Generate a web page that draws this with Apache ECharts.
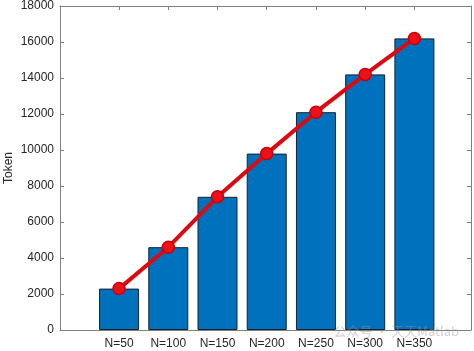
<!DOCTYPE html>
<html><head><meta charset="utf-8">
<script src="https://cdn.jsdelivr.net/npm/echarts@6/dist/echarts.min.js"></script>
<style>html,body{margin:0;padding:0;background:#fff}#c{width:474px;height:351px}</style>
</head><body><div id="c"></div>
<script>
const categories = ['N=50','N=100','N=150','N=200','N=250','N=300','N=350'];
const barValues = [2300, 4600, 7400, 9800, 12100, 14200, 16200];
const lineValues = [2300, 4600, 7400, 9800, 12100, 14200, 16200];
const yTicks = [0, 2000, 4000, 6000, 8000, 10000, 12000, 14000, 16000, 18000];

const idx = categories.map((_, i) => i);
const axisColor = '#7f7f7f';
const textColor = '#262626';
const font = 'Liberation Sans, Arial, sans-serif';

const chart = echarts.init(document.getElementById('c'));
chart.setOption({
  animation: false,
  backgroundColor: '#fff',
  grid: { left: 60, right: 3, top: 6, bottom: 21, containLabel: false, outerBoundsMode: 'none' },
  xAxis: [{
    type: 'value', min: -1.2, max: 7.15, position: 'bottom',
    axisLine: { show: true, onZero: false, lineStyle: { color: axisColor, width: 1 } },
    axisTick: { show: true, inside: true, length: 4, customValues: idx, lineStyle: { color: axisColor } },
    axisLabel: { customValues: idx, formatter: v => categories[Math.round(v)] || '', color: textColor, fontSize: 12, fontFamily: font, margin: 8 },
    splitLine: { show: false }
  }, {
    type: 'value', min: -1.2, max: 7.15, position: 'top',
    axisLine: { show: true, onZero: false, lineStyle: { color: axisColor, width: 1 } },
    axisTick: { show: true, inside: true, length: 4, customValues: idx, lineStyle: { color: axisColor } },
    axisLabel: { show: false },
    splitLine: { show: false }
  }],
  yAxis: [{
    type: 'value', min: 0, max: 18000, position: 'left',
    name: 'Token', nameLocation: 'middle', nameGap: 45, nameRotate: 90, nameMoveOverlap: false,
    nameTextStyle: { color: textColor, fontSize: 12, fontFamily: font },
    axisLine: { show: true, onZero: false, lineStyle: { color: axisColor, width: 1 } },
    axisTick: { show: true, inside: true, length: 4, customValues: yTicks, lineStyle: { color: axisColor } },
    axisLabel: { customValues: yTicks, formatter: v => String(v), color: textColor, fontSize: 12, fontFamily: font, margin: 6 },
    splitLine: { show: false }
  }, {
    type: 'value', min: 0, max: 18000, position: 'right',
    axisLine: { show: true, onZero: false, lineStyle: { color: axisColor, width: 1 } },
    axisTick: { show: true, inside: true, length: 4, customValues: yTicks, lineStyle: { color: axisColor } },
    axisLabel: { show: false },
    splitLine: { show: false }
  }],
  series: [{
    type: 'bar',
    xAxisIndex: 0, yAxisIndex: 0,
    data: barValues.map((v, i) => [i, v]),
    barWidth: 40,
    itemStyle: { color: '#0072BD', borderColor: '#14202c', borderWidth: 1 }
  }, {
    type: 'line',
    xAxisIndex: 0, yAxisIndex: 0,
    data: lineValues.map((v, i) => [i, v]),
    lineStyle: { color: '#DA0A10', width: 4 },
    itemStyle: { color: '#EE1018', borderColor: '#C8000C', borderWidth: 1.5 },
    symbol: 'circle', symbolSize: 12,
    z: 5
  }],
  graphic: [{
    type: 'text', right: 15, bottom: 13,
    style: { text: '公众号 · 天天Matlab', fill: 'rgba(150,150,150,0.45)', font: '13px "Noto Sans CJK SC", sans-serif' },
    z: 100
  }]
});
</script></body></html>
